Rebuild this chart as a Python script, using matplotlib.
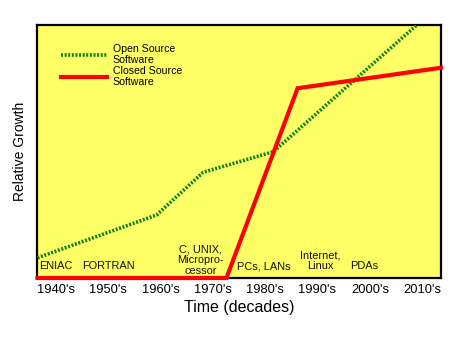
import matplotlib
matplotlib.use("Agg")
import matplotlib.pyplot as plt

plt.rcParams['font.family'] = ['Liberation Sans', 'DejaVu Sans']

decades = ["1940's", "1950's", "1960's", "1970's", "1980's", "1990's", "2000's", "2010's"]

open_x = [-0.35, 1.925, 2.816, 4.155, 6.897]
open_y = [0.08, 0.249, 0.418, 0.499, 1.0]

closed_x = [-0.35, 3.26, 4.62, 7.36]
closed_y = [0.0, 0.0, 0.75, 0.831]

events = ["ENIAC", "FORTRAN", "C, UNIX,\nMicropro-\ncessor", "PCs, LANs", "Internet,\nLinux", "PDAs"]
event_x = [0.0, 1.01, 2.77, 3.98, 5.05, 5.9]
event_y = [0.047, 0.047, 0.07, 0.047, 0.068, 0.047]

fig = plt.figure(figsize=(4.74, 3.38), dpi=100)
ax = fig.add_axes([37/474, 1 - 278/338, (441-37)/474, (278-25)/338])
ax.set_facecolor('#FFFF66')

ax.plot(open_x, open_y, color='#0E800E', lw=2.6, linestyle=(0, (0.55, 0.45)),
        dash_capstyle='butt', label='Open Source\nSoftware', zorder=3)
ax.plot(closed_x, closed_y, color='#FF0000', lw=3.0, label='Closed Source\nSoftware',
        solid_joinstyle='miter', zorder=4, clip_on=False)

for t, x, y in zip(events, event_x, event_y):
    ax.text(x, y, t, ha='center', va='center', fontsize=7.9, color='#111111',
            linespacing=1.05)

ax.set_xlim(-0.36, 7.36)
ax.set_ylim(0, 1)
ax.set_xticks(range(len(decades)))
ax.set_xticklabels(decades, fontsize=9.3)
ax.set_yticks([])
ax.tick_params(axis='x', length=0, pad=4)
for s in ax.spines.values():
    s.set_linewidth(1.6)
    s.set_color('black')

ax.set_xlabel('Time (decades)', fontsize=11.5, labelpad=3)
ax.set_ylabel('Relative Growth', fontsize=10, labelpad=7)

leg = ax.legend(loc='upper left', bbox_to_anchor=(0.05, 0.94), frameon=False,
                fontsize=7.6, handlelength=4.3, handletextpad=0.55,
                labelspacing=0.1, borderaxespad=0)
for t in leg.get_texts():
    t.set_linespacing(1.12)

fig.savefig('out.png', dpi=100, facecolor='white')
